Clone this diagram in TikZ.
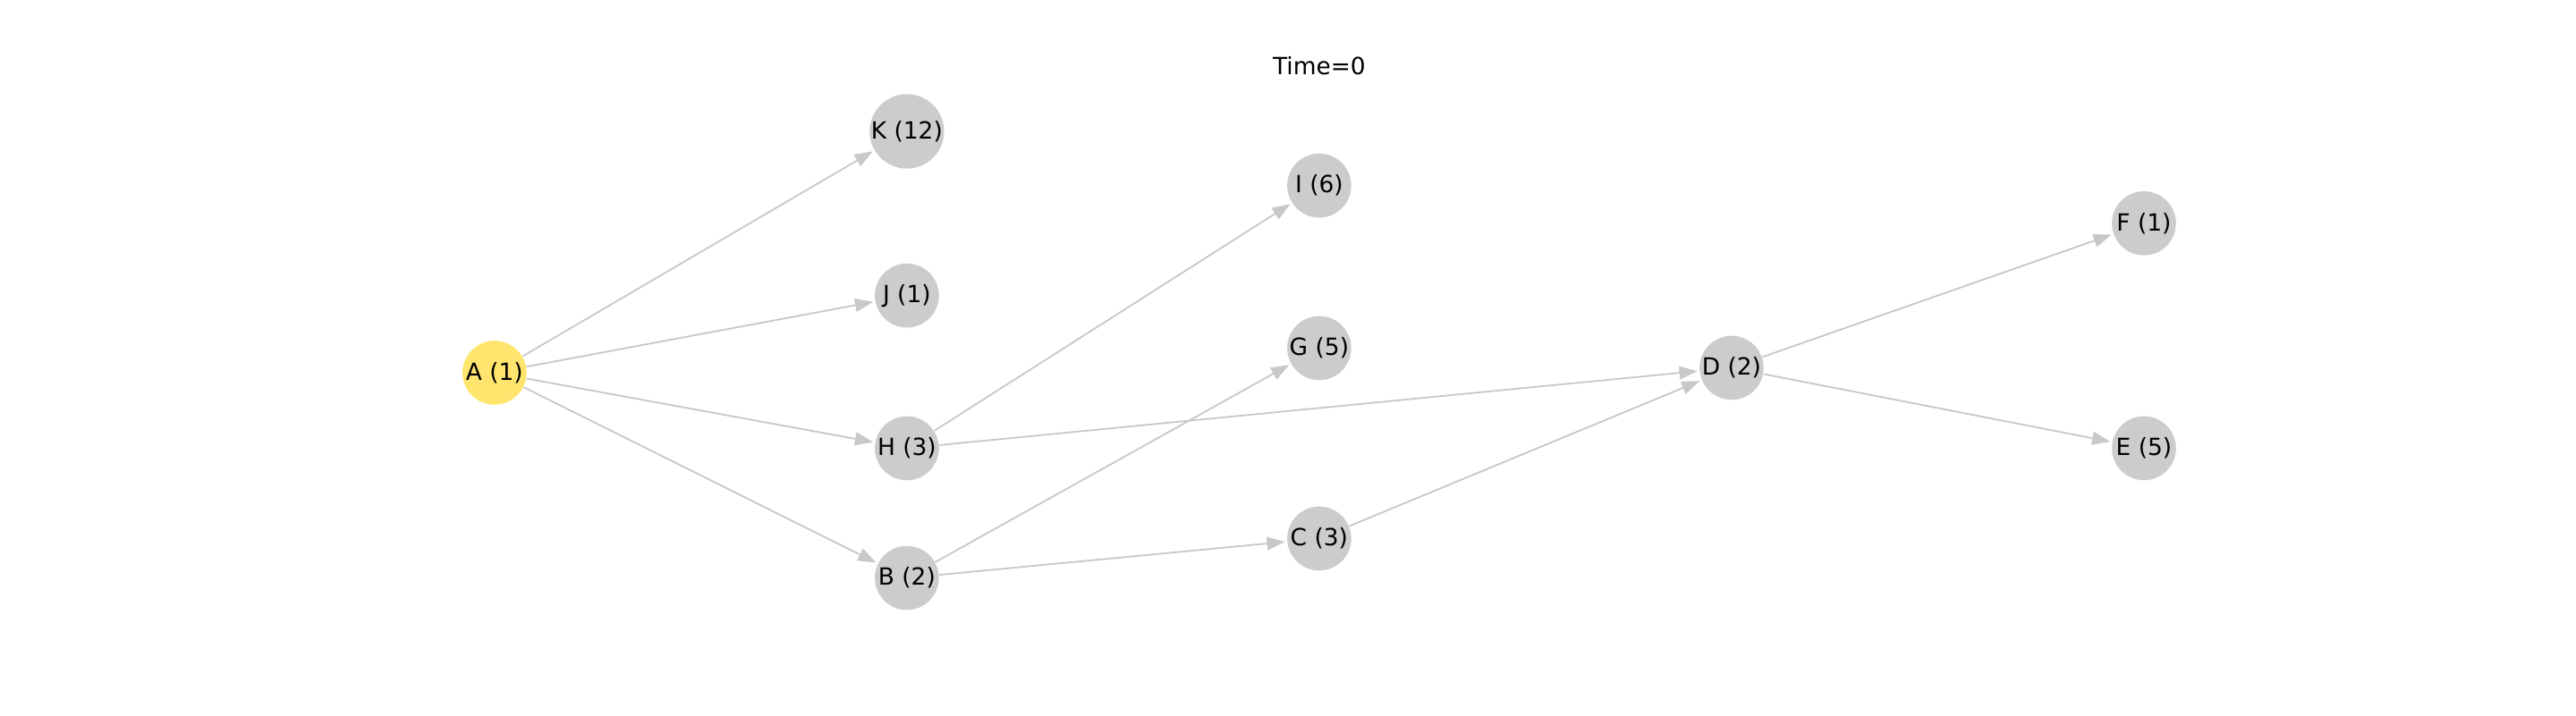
\documentclass[tikz,border=0pt]{standalone}
\usepackage{fontspec}
\setmainfont{DejaVu Sans}
\usetikzlibrary{arrows.meta}
\definecolor{ngray}{HTML}{CCCCCC}
\definecolor{nyellow}{HTML}{FFE56E}
\definecolor{egray}{HTML}{C8C8C8}
\begin{document}
\begin{tikzpicture}[x=0.5pt,y=0.5pt,
  nd/.style={circle,fill=ngray,minimum size=19.5pt,inner sep=0pt,font=\fontsize{7.2}{8}\selectfont},
  ed/.style={draw=egray,line width=0.5pt,-{Triangle[length=5.5pt,width=4pt]},shorten >=0.5pt}]
\useasboundingbox (0,0) rectangle (1568,-436);
\node[font=\fontsize{7.2}{8}\selectfont] (t) at (803,-40) {Time=0};
\node[nd,fill=nyellow] (A) at (301,-227) {A (1)};
\node[nd] (K) at (552,-80) {K (12)};
\node[nd] (J) at (552,-180) {J (1)};
\node[nd] (H) at (552,-273) {H (3)};
\node[nd] (B) at (552,-352) {B (2)};
\node[nd] (I) at (803,-113) {I (6)};
\node[nd] (G) at (803,-212) {G (5)};
\node[nd] (C) at (803,-328) {C (3)};
\node[nd] (D) at (1054,-224) {D (2)};
\node[nd] (F) at (1305,-136) {F (1)};
\node[nd] (E) at (1305,-273) {E (5)};
\foreach \a/\b in {A/K,A/J,A/H,A/B,H/I,H/D,B/G,B/C,C/D,D/F,D/E}
  \draw[ed] (\a) -- (\b);
\end{tikzpicture}
\end{document}
